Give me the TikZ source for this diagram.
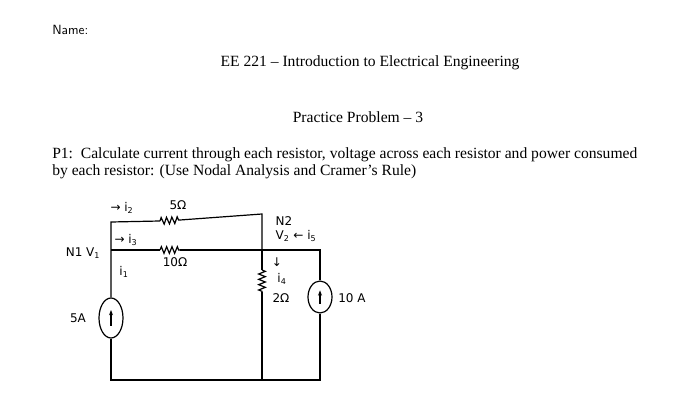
\documentclass[tikz,border=0pt]{standalone}
\usepackage{fontspec}
\setmainfont{Liberation Serif}
\newfontfamily\hand{DejaVu Sans}
\usetikzlibrary{decorations.pathmorphing,arrows.meta,shapes.geometric}
\begin{document}
\begin{tikzpicture}[x=0.75pt,y=-0.75pt,
  wire/.style={draw,line width=0.9pt},
  res/.style={decorate,decoration={zigzag,amplitude=2.5pt,segment length=4pt,pre length=0pt,post length=0pt}},
  lbl/.style={font=\hand\fontsize{9}{10}\selectfont,inner sep=1pt},
  txt/.style={font=\fontsize{11.7}{14}\selectfont,inner sep=0pt}]
\useasboundingbox (0,0) rectangle (700,420);
\node[font=\sffamily\fontsize{10}{12}\selectfont,anchor=west,inner sep=0pt] (name) at (52,30) {Name:};
\node[txt] (title) at (370,63) {EE 221 -- Introduction to Electrical Engineering};
\node[txt] (pp) at (358,117) {Practice Problem -- 3};
\node[txt,anchor=west] (p1) at (52,155) {P1:\ \ Calculate current through each resistor, voltage across each resistor and power consumed};
\node[txt,anchor=west] (p1b) at (52,172) {by each resistor: (Use Nodal Analysis and Cramer's Rule)};
% nodes
\coordinate (n1) at (111,250);
\coordinate (tl) at (111,222);
\coordinate (tr) at (262,214);
\coordinate (n2) at (262,250);
\coordinate (rr) at (320,250);
\coordinate (bl) at (111,380);
\coordinate (bm) at (262,380);
\coordinate (br) at (320,380);
\node[draw,line width=0.9pt,ellipse,minimum width=18pt,minimum height=30pt,inner sep=0pt] (s5) at (111,318) {};
\node[draw,line width=0.9pt,ellipse,minimum width=18pt,minimum height=24pt,inner sep=0pt] (s10) at (320,297) {};
\draw[-{Stealth[length=4pt]},line width=0.8pt] ([yshift=-6pt]s5.center) -- ([yshift=6pt]s5.center);
\draw[-{Stealth[length=4pt]},line width=0.8pt] ([yshift=-5pt]s10.center) -- ([yshift=5pt]s10.center);
% wires
\draw[wire] (s5.north) -- (n1) -- (tl) -- (160,221);
\draw[wire,res] (160,221) -- (180,220);
\draw[wire] (180,220) -- (tr) -- (n2);
\draw[wire] (n1) -- (160,250);
\draw[wire,res] (160,250) -- (180,250);
\draw[wire] (180,250) -- (n2) -- (rr) -- (s10.north);
\draw[wire] (n2) -- (262,270);
\draw[wire,res] (262,270) -- (262,292);
\draw[wire] (262,292) -- (bm);
\draw[wire] (s5.south) -- (bl) -- (bm) -- (br) -- (s10.south);
% labels
\node[lbl] (li2) at (122,208) {→ i\textsubscript{2}};
\node[lbl] (l5) at (178,205) {5Ω};
\node[lbl] (li3) at (126,240) {→ i\textsubscript{3}};
\node[lbl] (ln1) at (83,253) {N1 V\textsubscript{1}};
\node[lbl] (l10) at (175,262) {10Ω};
\node[lbl] (li1) at (124,272) {i\textsubscript{1}};
\node[lbl] (ln2) at (284,221) {N2};
\node[lbl] (lv2) at (296,236) {V\textsubscript{2} ← i\textsubscript{5}};
\node[lbl] (la4) at (277,262) {↓};
\node[lbl] (li4) at (282,279) {i\textsubscript{4}};
\node[lbl] (l2) at (281,298) {2Ω};
\node[lbl] (l10a) at (352,298) {10 A};
\node[lbl] (l5a) at (78,318) {5A};
\end{tikzpicture}
\end{document}
